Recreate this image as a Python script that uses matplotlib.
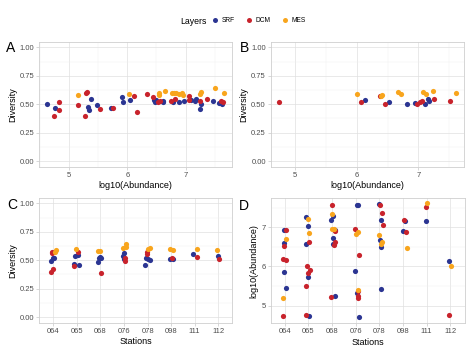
import matplotlib.pyplot as plt
from matplotlib.lines import Line2D
from matplotlib.ticker import MultipleLocator

plt.rcParams['font.family'] = ['Liberation Sans', 'DejaVu Sans']

# colores de cada camada
layers = ['SRF', 'DCM', 'MES']
colors = {'SRF': '#2b3592', 'DCM': '#c8232c', 'MES': '#f8a51d'}
stations = ['064', '065', '068', '076', '078', '098', '111', '112']

# painel A: log10(abundancia) x diversidade
a_abund = {
    'SRF': [4.63, 4.76, 5.38, 5.32, 5.34, 5.48, 5.72, 5.90, 5.92, 6.04, 6.46, 6.47, 6.50,
            6.61, 6.62, 6.79, 6.89, 6.98, 7.10, 7.16, 7.17, 7.24, 7.27, 7.47, 7.57, 7.63],
    'DCM': [4.82, 4.82, 4.75, 5.15, 5.29, 5.30, 5.27, 5.53, 5.76, 6.11, 6.16, 6.34, 6.44,
            6.56, 6.52, 6.75, 6.82, 7.06, 7.05, 7.24, 7.37, 7.60, 7.64],
    'MES': [5.15, 6.02, 6.55, 6.55, 6.64, 6.77, 6.80, 6.83, 6.89, 6.94, 6.95, 7.25, 7.26,
            7.50, 7.66],
}
a_div = {
    'SRF': [0.50, 0.465, 0.55, 0.477, 0.447, 0.49, 0.47, 0.56, 0.515, 0.535, 0.54, 0.52, 0.54,
            0.52, 0.53, 0.52, 0.52, 0.525, 0.54, 0.525, 0.55, 0.46, 0.505, 0.53, 0.51, 0.50],
    'DCM': [0.52, 0.45, 0.40, 0.49, 0.60, 0.61, 0.395, 0.46, 0.47, 0.57, 0.43, 0.59, 0.56,
            0.53, 0.52, 0.525, 0.55, 0.57, 0.54, 0.53, 0.545, 0.525, 0.52],
    'MES': [0.58, 0.59, 0.60, 0.58, 0.615, 0.60, 0.60, 0.60, 0.59, 0.60, 0.585, 0.59, 0.605,
            0.64, 0.60],
}

# painel B
b_abund = {
    'SRF': [6.13, 6.52, 6.81, 6.94, 7.10, 7.15, 7.17],
    'DCM': [4.74, 6.07, 6.37, 6.46, 6.98, 7.05, 7.02, 7.26, 7.52],
    'MES': [6.00, 6.41, 6.39, 6.66, 6.71, 7.07, 7.12, 7.24, 7.61],
}
b_div = {
    'SRF': [0.535, 0.515, 0.50, 0.51, 0.50, 0.55, 0.53],
    'DCM': [0.52, 0.515, 0.57, 0.50, 0.50, 0.53, 0.515, 0.55, 0.53],
    'MES': [0.59, 0.585, 0.57, 0.605, 0.59, 0.605, 0.59, 0.615, 0.60],
}

# painel C: estacao x diversidade (com jitter)
c_station = {
    'SRF': ['064', '064', '064', '065', '065', '065', '065', '068', '068', '068', '068',
            '076', '076', '076', '078', '078', '078', '078', '098', '098', '111', '112'],
    'DCM': ['064', '064', '064', '064', '065', '065', '068', '076', '076', '078', '078',
            '098', '111', '112'],
    'MES': ['064', '064', '065', '068', '068', '076', '076', '076', '078', '078', '098',
            '098', '111', '112'],
}
c_div = {
    'SRF': [0.49, 0.52, 0.52, 0.54, 0.545, 0.47, 0.46, 0.52, 0.53, 0.52, 0.48,
            0.56, 0.54, 0.51, 0.52, 0.51, 0.505, 0.46, 0.51, 0.51, 0.55, 0.535],
    'DCM': [0.56, 0.575, 0.40, 0.425, 0.57, 0.45, 0.39, 0.52, 0.49, 0.575, 0.55,
            0.52, 0.53, 0.51],
    'MES': [0.585, 0.57, 0.60, 0.58, 0.58, 0.64, 0.62, 0.605, 0.60, 0.61, 0.60,
            0.59, 0.595, 0.59],
}
c_jit = {
    'SRF': [-0.10, 0.0, 0.04, -0.07, 0.04, -0.11, 0.09, -0.07, -0.03, 0.04, -0.11,
            0.01, -0.03, -0.01, -0.06, 0.03, 0.09, -0.10, -0.03, 0.10, -0.07, -0.01],
    'DCM': [-0.07, -0.04, -0.10, 0.0, 0.04, -0.11, 0.04, 0.03, 0.04, -0.01, -0.04,
            0.04, 0.09, 0.03],
    'MES': [0.09, 0.07, -0.03, -0.10, 0.0, 0.07, 0.07, -0.04, 0.01, 0.09, -0.06,
            0.06, 0.11, -0.06],
}

# painel D: estacao x log10(abundancia)
d_station = {
    'SRF': ['064', '064', '064', '064', '065', '065', '065', '065', '065',
            '068', '068', '068', '068', '068', '068', '076', '076', '076', '076', '076',
            '078', '078', '078', '078', '078', '098', '098', '111', '112'],
    'DCM': ['064', '064', '064', '064', '064', '065', '065', '065', '065', '065', '065',
            '068', '068', '068', '068', '068', '076', '076', '076', '076', '076',
            '078', '078', '078', '098', '098', '111', '112'],
    'MES': ['064', '064', '065', '065', '068', '068', '068', '076', '076', '076',
            '078', '078', '078', '098', '111', '112'],
}
d_abund = {
    'SRF': [6.92, 6.61, 5.86, 5.46, 7.26, 7.03, 6.58, 5.72, 4.73,
            7.28, 7.20, 6.92, 6.74, 6.57, 5.24, 7.58, 7.56, 5.89, 5.33, 4.71,
            7.60, 7.20, 6.68, 6.49, 5.43, 7.15, 6.90, 7.15, 6.14],
    'DCM': [6.92, 6.52, 6.19, 6.17, 4.74, 6.63, 6.00, 5.92, 5.84, 5.49, 4.75,
            7.58, 6.90, 6.63, 6.55, 5.21, 6.97, 6.29, 5.37, 5.25, 5.20,
            7.56, 7.37, 7.05, 7.20, 6.89, 7.51, 4.75],
    'MES': [6.70, 5.19, 7.21, 6.86, 7.34, 6.96, 6.95, 6.87, 6.82, 5.39,
            6.80, 6.62, 6.58, 6.46, 7.61, 6.00],
}
d_jit = {
    'SRF': [-0.04, -0.03, -0.03, 0.06, -0.08, 0.0, -0.08, -0.01, 0.04,
            0.03, -0.03, 0.11, 0.03, 0.04, 0.13, 0.07, 0.11, -0.01, 0.04, 0.13,
            -0.03, 0.06, 0.03, 0.08, 0.06, 0.08, -0.01, -0.01, -0.06],
    'DCM': [0.06, -0.01, -0.07, 0.04, -0.06, 0.01, -0.07, 0.06, -0.03, -0.11, -0.10,
            -0.01, 0.11, 0.14, 0.08, -0.04, -0.01, 0.16, 0.08, 0.11, 0.11,
            0.04, 0.10, 0.14, 0.03, 0.14, -0.01, -0.06],
    'MES': [0.06, -0.08, 0.0, 0.03, 0.0, 0.01, 0.08, 0.08, 0.01, 0.10,
            -0.03, 0.11, 0.07, 0.18, 0.03, 0.01],
}

W, H = 474, 355
fig = plt.figure(figsize=(W / 100, H / 100), dpi=100)


def px_axes(x0, y0, x1, y1):
    return fig.add_axes([x0 / W, 1 - y1 / H, (x1 - x0) / W, (y1 - y0) / H])


def estilo(ax):
    # tema parecido com theme_light do ggplot
    for s in ax.spines.values():
        s.set_color('#cfcfcf')
        s.set_linewidth(0.6)
    ax.grid(which='major', color='#e0e0e0', linewidth=0.5)
    ax.grid(which='minor', color='#efefef', linewidth=0.35)
    ax.set_axisbelow(True)
    ax.tick_params(which='major', length=2, width=0.5, color='#c8c8c8',
                   labelsize=5.5, labelcolor='#4d4d4d', pad=1.5)
    ax.tick_params(which='minor', length=0)


ms = 14
axA = px_axes(39.3, 41.7, 232.3, 166.7)
axB = px_axes(270.7, 41.7, 464, 166.7)
axC = px_axes(39.3, 197.6, 232.3, 322.7)
axD = px_axes(270.5, 198.2, 464.5, 323)

for ax, ab, dv in [(axA, a_abund, a_div), (axB, b_abund, b_div)]:
    for lay in layers:
        ax.scatter(ab[lay], dv[lay], s=ms, color=colors[lay], linewidths=0, zorder=3)
    ax.set_ylim(-0.05, 1.05)
    ax.yaxis.set_major_locator(MultipleLocator(0.25))
    ax.yaxis.set_minor_locator(MultipleLocator(0.125))
    ax.xaxis.set_major_locator(MultipleLocator(1))
    ax.xaxis.set_minor_locator(MultipleLocator(0.5))
    ax.yaxis.set_major_formatter('{x:.2f}')
    ax.set_xlabel('log10(Abundance)', fontsize=6.5, labelpad=2)
    ax.set_ylabel('Diversity', fontsize=6.5, labelpad=2)
    estilo(ax)
axA.set_xlim(4.49, 7.80)
axB.set_xlim(4.60, 7.74)

for ax, st, val, jit in [(axC, c_station, c_div, c_jit), (axD, d_station, d_abund, d_jit)]:
    for lay in layers:
        xs = [stations.index(s) + j for s, j in zip(st[lay], jit[lay])]
        ax.scatter(xs, val[lay], s=ms, color=colors[lay], linewidths=0, zorder=3)
    ax.set_xticks(range(len(stations)))
    ax.set_xticklabels(stations)
    ax.set_xlim(-0.6, len(stations) - 0.4)
    ax.set_xlabel('Stations', fontsize=6.5, labelpad=2)
    estilo(ax)

axC.set_ylim(-0.05, 1.05)
axC.yaxis.set_major_locator(MultipleLocator(0.25))
axC.yaxis.set_minor_locator(MultipleLocator(0.125))
axC.yaxis.set_major_formatter('{x:.2f}')
axC.set_ylabel('Diversity', fontsize=6.5, labelpad=2)

axD.set_ylim(4.555, 7.745)
axD.yaxis.set_major_locator(MultipleLocator(1))
axD.yaxis.set_minor_locator(MultipleLocator(0.5))
axD.set_ylabel('log10(Abundance)', fontsize=6.5, labelpad=2)

# letras dos paineis
for lbl, x, y in [('A', 6, 41), ('B', 240, 41), ('C', 7, 198), ('D', 239, 199)]:
    fig.text(x / W, 1 - y / H, lbl, fontsize=10, va='top', ha='left')

# legenda no topo
fig.text(180 / W, 1 - 21 / H, 'Layers', fontsize=6.3, va='center', ha='left')
handles = [Line2D([], [], marker='o', linestyle='', markersize=3.6,
                  markerfacecolor=colors[l], markeredgewidth=0) for l in layers]
fig.legend(handles, layers, loc='center left', bbox_to_anchor=(212 / W, 1 - 21 / H),
           ncol=3, frameon=False, fontsize=4.8, handlelength=1.0, handletextpad=0.5,
           columnspacing=1.6, borderpad=0, borderaxespad=0)

fig.savefig('out.png', dpi=100)
